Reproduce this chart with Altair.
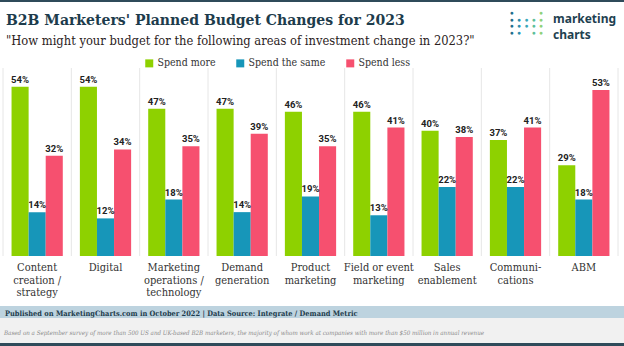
import altair as alt
import pandas as pd

categories = ["Content|creation /|strategy", "Digital", "Marketing|operations /|technology",
              "Demand|generation", "Product|marketing", "Field or event|marketing",
              "Sales|enablement", "Communi-|cations", "ABM"]
series = ["Spend more", "Spend the same", "Spend less"]
spend_more = [54, 54, 47, 47, 46, 46, 40, 37, 29]
spend_same = [14, 12, 18, 14, 19, 13, 22, 22, 18]
spend_less = [32, 34, 35, 39, 35, 41, 38, 41, 53]
colors = ["#8ed100", "#1796b9", "#f6506f"]

title = "B2B Marketers' Planned Budget Changes for 2023"
subtitle = '"How might your budget for the following areas of investment change in 2023?"'
footer = "Published on MarketingCharts.com in October 2022 | Data Source: Integrate / Demand Metric"
note = ("Based on a September survey of more than 500 US and UK-based B2B marketers, the majority "
        "of whom work at companies with more than $50 million in annual revenue")

rows = []
for i, c in enumerate(categories):
    for s, vals in zip(series, [spend_more, spend_same, spend_less]):
        rows.append({"cat": c, "series": s, "value": vals[i], "label": f"{vals[i]}%"})
df = pd.DataFrame(rows)

SERIF = "DejaVu Serif Condensed, DejaVu Serif"
W, H = 615, 188

xscale = alt.Scale(paddingInner=0, paddingOuter=0)
xenc = alt.X("cat:N", sort=categories, scale=xscale, axis=None)
xoff = alt.XOffset("series:N", sort=series, scale=alt.Scale(paddingInner=0, paddingOuter=0.5))
yenc = alt.Y("value:Q", scale=alt.Scale(domain=[0, 60]), axis=None)

base = alt.Chart(df)
cats_df = pd.DataFrame({"cat": categories})

seps = alt.Chart(cats_df).mark_rule(color="#e6e6e6", strokeWidth=1).encode(
    x=alt.X("cat:N", sort=categories, bandPosition=0, axis=None), y=alt.value(0), y2=alt.value(H))
right_sep = alt.Chart(pd.DataFrame({"a": [0]})).mark_rule(color="#e6e6e6").encode(
    x=alt.value(W), y=alt.value(0), y2=alt.value(H))

cat_labels = alt.Chart(cats_df).transform_calculate(
    lines="split(datum.cat, '|')"
).mark_text(font=SERIF, fontSize=11, lineHeight=12.5, color="#333333", baseline="top",
            align="center").encode(
    x=alt.X("cat:N", sort=categories, axis=None), y=alt.value(H + 6), text="lines:N")

bars = base.mark_bar().encode(
    x=xenc, xOffset=xoff, y=yenc,
    color=alt.Color("series:N", sort=series, scale=alt.Scale(domain=series, range=colors),
                    legend=alt.Legend(orient="none", legendX=141, legendY=-10, direction="horizontal",
                                      title=None, symbolType="square", symbolSize=64,
                                      symbolStrokeWidth=0, labelFont=SERIF, labelFontSize=10.5,
                                      labelColor="#333333", columnPadding=19, labelOffset=3)))
labels = base.mark_text(font="Roboto", fontWeight="bold", fontSize=9.5, color="#222222",
                        baseline="alphabetic", dy=-4).encode(
    x=xenc, xOffset=xoff, y=yenc, text="label:N")


def txt(s, x, y, **kw):
    return alt.Chart(pd.DataFrame({"t": [s]})).mark_text(align="left", baseline="alphabetic", **kw).encode(
        text="t:N", x=alt.value(x), y=alt.value(y))


def rect(x, x2, y, y2, color):
    return alt.Chart(pd.DataFrame({"a": [0]})).mark_rect(color=color).encode(
        x=alt.value(x), x2=alt.value(x2), y=alt.value(y), y2=alt.value(y2))


OX, OY = 3, 68  # plot origin in the page
deco = [
    rect(-OX, 624 - OX, -OY, 2 - OY, "#2f4b5a"),
    rect(-OX, 624 - OX, 306 - OY, 318 - OY, "#bdd3df"),
    rect(-OX, 624 - OX, 318 - OY, 343 - OY, "#f1f1f1"),
    rect(-OX, 624 - OX, 343 - OY, 346 - OY, "#2f4b5a"),
    txt(title, 6 - OX, 25 - OY, font=SERIF, fontWeight="bold", fontSize=15.6, color="#1d3c4c"),
    txt(subtitle, 6 - OX, 45 - OY, font=SERIF, fontSize=12.8, color="#2b2222"),
    txt("marketing", 553 - OX, 23 - OY, font="Noto Sans", fontWeight="bold", fontSize=12, color="#1e4150"),
    txt("charts", 553 - OX, 38.5 - OY, font="Noto Sans", fontWeight="bold", fontSize=12, color="#1e4150"),
    txt(footer, 5 - OX, 316 - OY, font=SERIF, fontWeight="bold", fontSize=7.4, color="#1d3c4c"),
    txt(note, 4 - OX, 335 - OY, font=SERIF, fontStyle="italic", fontSize=6.2, color="#8a8a8a"),
]

# logo dots: 5 columns of stacked dots
dot_cols = [["●", "●", "●", "●"], [" ", "●", "●", "●"], [" ", " ", "●", "●"],
            [" ", "●", "●", "●"], ["●", "●", "●", "●"]]
dot_colors = ["#1f6e8c", "#2a8fb0", "#3aa7b8", "#5cbf9a", "#8fd27a"]
logo = []
for k, (col, c) in enumerate(zip(dot_cols, dot_colors)):
    logo.append(alt.Chart(pd.DataFrame({"a": [0]})).mark_text(
        text=col, fontSize=6.5, lineHeight=6.5, color=c, baseline="top", align="center").encode(
        x=alt.value(512 + k * 7.3 - OX), y=alt.value(10 - OY)))

chart = alt.layer(*deco, *logo, seps, right_sep, bars, labels, cat_labels).properties(
    width=W, height=H, autosize=alt.AutoSizeParams(type="none"),
    padding={"left": OX, "top": OY, "right": 624 - OX - W, "bottom": 346 - OY - H},
    background="white"
).configure_view(stroke=None)

chart.save("out.html", embed_options={"renderer": "svg", "actions": False})
